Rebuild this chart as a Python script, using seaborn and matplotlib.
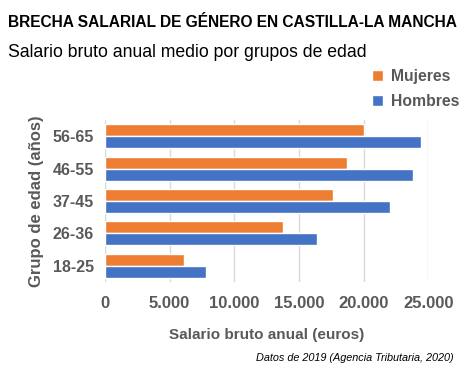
import matplotlib
matplotlib.use("Agg")
import matplotlib.pyplot as plt
import seaborn as sns
import pandas as pd
from matplotlib.ticker import FuncFormatter
from matplotlib.patches import Patch

# Data
age_groups = ["56-65", "46-55", "37-45", "26-36", "18-25"]
mujeres = [20050, 18730, 17670, 13750, 6140]
hombres = [24460, 23820, 22060, 16390, 7790]
series = ["Mujeres", "Hombres"]
colors = ["#ED7D31", "#4472C4"]

df = pd.DataFrame({
    "grupo": age_groups * 2,
    "salario": mujeres + hombres,
    "sexo": ["Mujeres"] * len(age_groups) + ["Hombres"] * len(age_groups),
})

sns.set_style("white")
plt.rcParams["font.family"] = ["Liberation Sans", "DejaVu Sans"]

GRAY = "#595959"

fig = plt.figure(figsize=(4.74, 3.75), dpi=100)
ax = fig.add_axes([0.2215, 0.248, 0.682, 0.432])

sns.barplot(data=df, x="salario", y="grupo", hue="sexo", order=age_groups,
            hue_order=series, palette=colors, orient="h", width=0.74,
            saturation=1, ax=ax, legend=False)

ax.set_xlim(0, 25000)
ax.set_xticks(range(0, 25001, 5000))
ax.xaxis.set_major_formatter(FuncFormatter(lambda v, p: f"{int(v):,}".replace(",", ".")))
ax.grid(axis="x", color="#D9D9D9", linewidth=1)
ax.set_axisbelow(True)
for s in ax.spines.values():
    s.set_visible(False)
ax.tick_params(axis="x", length=0, labelcolor=GRAY, labelsize=12, pad=10)
ax.tick_params(axis="y", length=0, labelcolor=GRAY, labelsize=11.5, pad=8)
for lab in ax.get_xticklabels() + ax.get_yticklabels():
    lab.set_fontweight("bold")

ax.set_xlabel("Salario bruto anual (euros)", fontsize=11, fontweight="bold",
              color=GRAY, labelpad=12)
ax.set_ylabel("Grupo de edad (años)", fontsize=12, fontweight="bold",
              color=GRAY, labelpad=6)

fig.text(0.017, 0.94, "BRECHA SALARIAL DE GÉNERO EN CASTILLA-LA MANCHA",
         fontsize=11.2, fontweight="bold", color="black", va="center")
fig.text(0.017, 0.86, "Salario bruto anual medio por grupos de edad",
         fontsize=12.7, color="black", va="center")
fig.text(0.957, 0.045, "Datos de 2019 (Agencia Tributaria, 2020)",
         fontsize=7.8, style="italic", color="black", ha="right", va="center")

handles = [Patch(facecolor=c, label=s) for c, s in zip(colors, series)]
leg = fig.legend(handles=handles, loc="center left", bbox_to_anchor=(0.755, 0.762),
                 frameon=False, handlelength=0.7, handleheight=0.7,
                 handletextpad=0.5, labelspacing=0.65, fontsize=11.3)
for t in leg.get_texts():
    t.set_color(GRAY)
    t.set_fontweight("bold")

fig.savefig("out.png", dpi=100)
